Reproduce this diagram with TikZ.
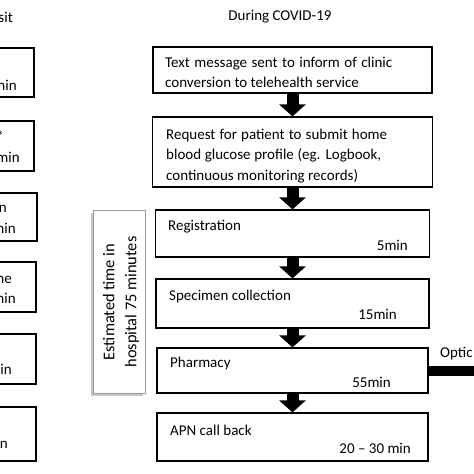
\documentclass[tikz,border=0pt]{standalone}
\usepackage{fontspec}
\setmainfont{Carlito}
\usetikzlibrary{arrows.meta,shadows}
\pgfdeclarelayer{edgelayer}
\pgfdeclarelayer{nodelayer}
\pgfsetlayers{edgelayer,nodelayer,main}
\tikzset{font=\fontsize{15}{20}\selectfont}
\tikzstyle{none}=[inner sep=0pt]
\tikzstyle{box}=[rectangle,draw=black,line width=1.2pt,fill=white,inner sep=0pt]
\tikzstyle{shade}=[rectangle,draw=black!40,line width=0.6pt,fill=white,inner sep=0pt,drop shadow={shadow xshift=-2pt,shadow yshift=-2.5pt,opacity=0.45}]
\tikzstyle{fat}=[line width=12pt,-{Triangle[width=26pt,length=12pt]}]

\begin{document}
\begin{tikzpicture}[x=1pt,y=-1pt]
	\useasboundingbox (0,0) rectangle (474,474);
	\begin{pgfonlayer}{nodelayer}
		% left column (cut off)
		\node [style=box, minimum width=94pt, minimum height=49pt] (0) at (-13, 72.5) {};
		\node [style=box, minimum width=94pt, minimum height=50pt] (1) at (-13, 146) {};
		\node [style=box, minimum width=97pt, minimum height=48pt] (2) at (-11.5, 217) {};
		\node [style=box, minimum width=96pt, minimum height=50pt] (3) at (-12, 287) {};
		\node [style=box, minimum width=96pt, minimum height=50pt] (4) at (-12, 359) {};
		\node [style=box, minimum width=96pt, minimum height=54pt] (5) at (-12, 434) {};
		% estimated time
		\node [style=shade, minimum width=52pt, minimum height=183pt] (6) at (119, 301.5) {};
		% during covid
		\node [style=box, minimum width=279pt, minimum height=46pt] (7) at (292.5, 70) {};
		\node [style=box, minimum width=280pt, minimum height=70pt] (8) at (292.5, 152) {};
		\node [style=box, minimum width=274pt, minimum height=47pt] (9) at (292.5, 233.5) {};
		\node [style=box, minimum width=273pt, minimum height=49pt] (10) at (292.5, 303.5) {};
		\node [style=box, minimum width=271pt, minimum height=45pt] (11) at (292.5, 370.5) {};
		\node [style=box, minimum width=271pt, minimum height=48pt] (12) at (292.5, 437) {};
		\coordinate (13) at (490, 370.5);
	\end{pgfonlayer}
	\begin{pgfonlayer}{edgelayer}
		\draw [style=fat] (7.south) to (8.north);
		\draw [style=fat] (8.south) to (9.north);
		\draw [style=fat] (9.south) to (10.north);
		\draw [style=fat] (10.south) to (11.north);
		\draw [style=fat] (11.south) to (12.north);
		\draw [line width=10pt] (11.east) to (13);
	\end{pgfonlayer}
	% texts
	\node [style=none, anchor=base east] (20) at (13, 22) {sit};
	\node [style=none, anchor=base east] (21) at (17, 90) {min};
	\node [style=none, anchor=base east] (22) at (4, 141) {*};
	\node [style=none, anchor=base east] (23) at (20, 162) {min};
	\node [style=none, anchor=base east] (24) at (7, 212) {n};
	\node [style=none, anchor=base east] (25) at (16, 233) {min};
	\node [style=none, anchor=base east] (26) at (12, 283) {me};
	\node [style=none, anchor=base east] (27) at (16, 303) {min};
	\node [style=none, anchor=base east] (28) at (12, 374) {in};
	\node [style=none, anchor=base east] (29) at (8, 448) {n};
	\node [style=none, rotate=90, align=center, font=\fontsize{16.4}{22}\selectfont] (30) at (121, 302) {Estimated time in\\hospital 75 minutes};
	\node [style=none, anchor=base] (31) at (280, 20) {During COVID-19};
	\node [style=none, anchor=base west] (32) at (165, 67) {\makebox[227pt][s]{Text message sent to inform of clinic}};
	\node [style=none, anchor=base west] (33) at (165, 87) {conversion to telehealth service};
	\node [style=none, anchor=base west] (34) at (166, 139) {\makebox[221pt][s]{Request for patient to submit home}};
	\node [style=none, anchor=base west] (35) at (166, 159) {\makebox[215pt][s]{blood glucose profile (eg. Logbook,}};
	\node [style=none, anchor=base west] (36) at (166, 180) {continuous monitoring records)};
	\node [style=none, anchor=base west] (37) at (168, 230) {Registration};
	\node [style=none, anchor=base east] (38) at (408, 250) {5min};
	\node [style=none, anchor=base west] (39) at (169, 300) {Specimen collection};
	\node [style=none, anchor=base east] (40) at (397, 319) {15min};
	\node [style=none, anchor=base west] (41) at (170, 367) {Pharmacy};
	\node [style=none, anchor=base east] (42) at (391, 387) {55min};
	\node [style=none, anchor=base west] (43) at (440, 357) {Optic};
	\node [style=none, anchor=base west] (44) at (170, 435) {APN call back};
	\node [style=none, anchor=base east] (45) at (411, 453) {20 -- 30 min};
\end{tikzpicture}
\end{document}
